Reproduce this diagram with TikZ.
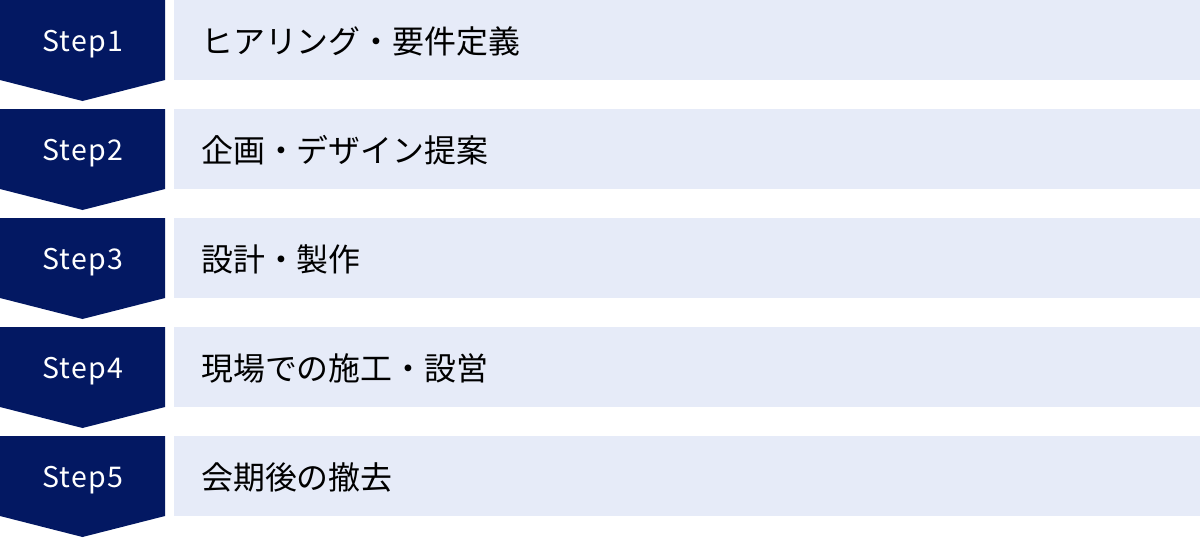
\documentclass[tikz,border=0pt]{standalone}
\usepackage{fontspec}
\setmainfont{Noto Sans CJK JP}
\newfontfamily\stepfont[LetterSpace=5]{Noto Sans CJK JP}
\definecolor{navy}{HTML}{031862}
\definecolor{pale}{HTML}{E6EBF8}
\begin{document}
\begin{tikzpicture}[x=1pt,y=-1pt,
  stepshape/.style={fill=navy,draw=none},
  bar/.style={fill=pale,draw=none},
  steplabel/.style={text=white,font=\stepfont\fontsize{28.5}{32}\selectfont,inner sep=0pt,anchor=base},
  itemlabel/.style={text=black,font=\fontsize{31.9}{34}\selectfont,anchor=west,inner sep=0pt}]
\useasboundingbox (0,0) rectangle (1200,538);
\foreach \i/\txt in {1/ヒアリング・要件定義,2/企画・デザイン提案,3/設計・製作,4/現場での施工・設営,5/会期後の撤去}{
  \pgfmathsetmacro{\t}{(\i-1)*109}
  \fill[stepshape] (0,\t) -- (165,\t) -- (165,\t+80) -- (82.5,\t+101) -- (0,\t+80) -- cycle;
  \fill[bar] (174,\t) rectangle (1200,\t+80);
  \node[steplabel] (s\i) at (83,\t+51) {Step\i};
  \node[itemlabel] (t\i) at (201,\t+41) {\txt};
}
\end{tikzpicture}
\end{document}
